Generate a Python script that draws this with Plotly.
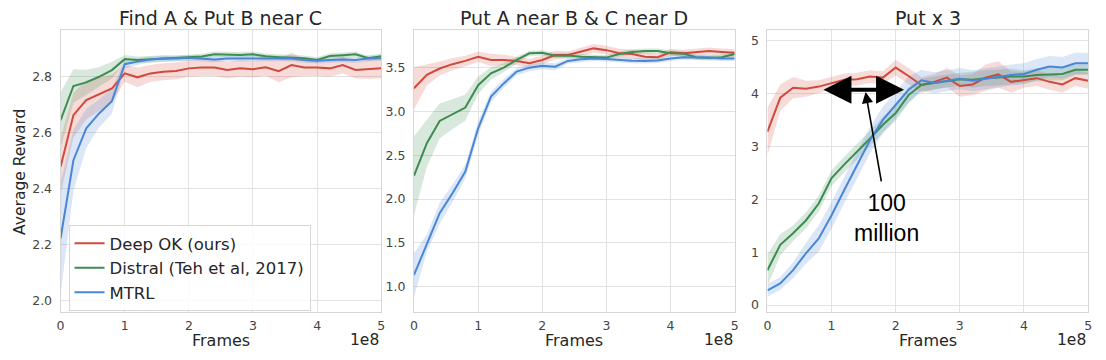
import plotly.graph_objects as go

frames = [0.0, 0.2, 0.4, 0.6, 0.8, 1.0, 1.2, 1.4, 1.6, 1.8, 2.0, 2.2, 2.4,
          2.6, 2.8, 3.0, 3.2, 3.4, 3.6, 3.8, 4.0, 4.2, 4.4, 4.6, 4.8, 5.0]

series_names = ["Deep OK (ours)", "Distral (Teh et al, 2017)", "MTRL"]
panel_titles = ["Find A & Put B near C", "Put A near B & C near D", "Put x 3"]

# Panel 1: Find A & Put B near C
p1_deepok = [2.479, 2.663, 2.717, 2.737, 2.758, 2.812, 2.798, 2.812, 2.818, 2.821, 2.830, 2.833, 2.833,
             2.824, 2.830, 2.827, 2.834, 2.820, 2.842, 2.833, 2.833, 2.830, 2.842, 2.824, 2.827, 2.830]
p1_deepok_err = [0.10, 0.08, 0.07, 0.06, 0.05, 0.03, 0.035, 0.03, 0.03, 0.03, 0.03, 0.03, 0.03,
                 0.03, 0.03, 0.03, 0.03, 0.04, 0.045, 0.03, 0.03, 0.03, 0.03, 0.03, 0.035, 0.035]
p1_distral = [2.645, 2.767, 2.780, 2.800, 2.824, 2.863, 2.860, 2.862, 2.865, 2.866, 2.870, 2.872, 2.880,
              2.878, 2.878, 2.880, 2.873, 2.870, 2.868, 2.866, 2.860, 2.874, 2.877, 2.880, 2.866, 2.873]
p1_distral_err = [0.10, 0.06, 0.045, 0.035, 0.03, 0.015, 0.012, 0.012, 0.012, 0.01, 0.01, 0.01, 0.01,
                  0.01, 0.01, 0.01, 0.01, 0.01, 0.01, 0.01, 0.01, 0.01, 0.01, 0.01, 0.01, 0.01]
p1_mtrl = [2.223, 2.502, 2.616, 2.669, 2.713, 2.845, 2.854, 2.862, 2.865, 2.865, 2.868, 2.865, 2.862,
           2.865, 2.865, 2.866, 2.867, 2.866, 2.865, 2.860, 2.857, 2.860, 2.862, 2.860, 2.865, 2.866]
p1_mtrl_err = [0.20, 0.11, 0.07, 0.05, 0.045, 0.015, 0.012, 0.01, 0.01, 0.01, 0.01, 0.01, 0.01,
               0.01, 0.01, 0.01, 0.01, 0.01, 0.01, 0.01, 0.01, 0.01, 0.01, 0.01, 0.01, 0.01]

# Panel 2: Put A near B & C near D
p2_deepok = [3.265, 3.417, 3.490, 3.540, 3.577, 3.625, 3.588, 3.588, 3.577, 3.550, 3.588, 3.645, 3.645,
             3.680, 3.720, 3.700, 3.665, 3.655, 3.625, 3.620, 3.676, 3.665, 3.680, 3.690, 3.680, 3.670]
p2_deepok_err = [0.24, 0.12, 0.08, 0.07, 0.06, 0.06, 0.07, 0.06, 0.05, 0.05, 0.05, 0.05, 0.04,
                 0.05, 0.05, 0.05, 0.05, 0.05, 0.05, 0.04, 0.04, 0.04, 0.04, 0.04, 0.04, 0.04]
p2_distral = [2.267, 2.637, 2.892, 2.970, 3.044, 3.300, 3.436, 3.500, 3.588, 3.664, 3.670, 3.637, 3.640,
              3.625, 3.620, 3.615, 3.655, 3.680, 3.690, 3.690, 3.665, 3.660, 3.620, 3.610, 3.620, 3.655]
p2_distral_err = [0.45, 0.27, 0.20, 0.17, 0.15, 0.10, 0.07, 0.05, 0.04, 0.03, 0.03, 0.03, 0.03,
                  0.03, 0.03, 0.03, 0.03, 0.03, 0.03, 0.03, 0.03, 0.03, 0.03, 0.03, 0.03, 0.03]
p2_mtrl = [1.133, 1.495, 1.838, 2.066, 2.313, 2.808, 3.169, 3.320, 3.455, 3.500, 3.523, 3.510, 3.577,
           3.595, 3.605, 3.600, 3.588, 3.580, 3.577, 3.583, 3.605, 3.620, 3.615, 3.620, 3.605, 3.605]
p2_mtrl_err = [0.25, 0.10, 0.12, 0.10, 0.08, 0.08, 0.06, 0.05, 0.04, 0.04, 0.04, 0.04, 0.03,
               0.03, 0.03, 0.03, 0.03, 0.03, 0.03, 0.03, 0.03, 0.03, 0.03, 0.03, 0.03, 0.03]

# Panel 3: Put x 3
p3_deepok = [3.28, 3.92, 4.11, 4.09, 4.13, 4.19, 4.26, 4.27, 4.32, 4.30, 4.49, 4.33, 4.16,
             4.22, 4.30, 4.14, 4.17, 4.30, 4.36, 4.22, 4.26, 4.29, 4.22, 4.17, 4.29, 4.24]
p3_deepok_err = [0.45, 0.25, 0.20, 0.15, 0.12, 0.12, 0.12, 0.12, 0.12, 0.12, 0.15, 0.15, 0.15,
                 0.15, 0.18, 0.20, 0.20, 0.25, 0.25, 0.20, 0.15, 0.15, 0.15, 0.15, 0.15, 0.15]
p3_distral = [0.66, 1.14, 1.36, 1.60, 1.92, 2.40, 2.66, 2.90, 3.15, 3.41, 3.63, 3.97, 4.16,
              4.20, 4.24, 4.27, 4.26, 4.29, 4.30, 4.32, 4.32, 4.35, 4.36, 4.37, 4.45, 4.45]
p3_distral_err = [0.30, 0.20, 0.15, 0.15, 0.15, 0.15, 0.15, 0.15, 0.15, 0.15, 0.15, 0.15, 0.12,
                  0.12, 0.12, 0.12, 0.15, 0.15, 0.15, 0.15, 0.12, 0.12, 0.12, 0.12, 0.10, 0.10]
p3_mtrl = [0.28, 0.41, 0.66, 0.98, 1.26, 1.70, 2.18, 2.65, 3.12, 3.50, 3.78, 4.07, 4.25,
           4.20, 4.24, 4.28, 4.24, 4.28, 4.32, 4.35, 4.37, 4.45, 4.51, 4.49, 4.57, 4.57]
p3_mtrl_err = [0.12, 0.12, 0.15, 0.20, 0.25, 0.25, 0.25, 0.25, 0.25, 0.25, 0.25, 0.25, 0.20,
               0.20, 0.20, 0.20, 0.20, 0.20, 0.20, 0.20, 0.20, 0.20, 0.20, 0.20, 0.20, 0.20]

panels = [
    [(p1_deepok, p1_deepok_err), (p1_distral, p1_distral_err), (p1_mtrl, p1_mtrl_err)],
    [(p2_deepok, p2_deepok_err), (p2_distral, p2_distral_err), (p2_mtrl, p2_mtrl_err)],
    [(p3_deepok, p3_deepok_err), (p3_distral, p3_distral_err), (p3_mtrl, p3_mtrl_err)],
]

colors = ["#d04a3c", "#3d8c50", "#4a86d8"]
fills = ["rgba(208,74,60,0.2)", "rgba(61,140,80,0.2)", "rgba(74,134,216,0.2)"]

y_ranges = [[1.96, 2.967], [0.71, 3.93], [-0.13, 5.2]]
y_ticks = [[2.0, 2.2, 2.4, 2.6, 2.8], [1.0, 1.5, 2.0, 2.5, 3.0, 3.5], [0, 1, 2, 3, 4, 5]]
y_fmt = [".1f", ".1f", "d"]
x_ticks = [0, 1, 2, 3, 4, 5]

W, H = 1106, 360
x_px = [(57, 380), (413, 736), (769, 1092)]
top_px, bot_px = 30, 312

fig = go.Figure()
grid = "#e3e3e3"
for i, panel in enumerate(panels):
    xa = "x" if i == 0 else f"x{i+1}"
    ya = "y" if i == 0 else f"y{i+1}"
    for j, (vals, err) in enumerate(panel):
        upper = [v + e for v, e in zip(vals, err)]
        lower = [v - e for v, e in zip(vals, err)]
        fig.add_trace(go.Scatter(x=frames, y=upper, mode="lines", line=dict(width=0),
                                 showlegend=False, hoverinfo="skip", xaxis=xa, yaxis=ya))
        fig.add_trace(go.Scatter(x=frames, y=lower, mode="lines", line=dict(width=0),
                                 fill="tonexty", fillcolor=fills[j],
                                 showlegend=False, hoverinfo="skip", xaxis=xa, yaxis=ya))
    for j, (vals, err) in enumerate(panel):
        fig.add_trace(go.Scatter(x=frames, y=vals, mode="lines",
                                 line=dict(color=colors[j], width=2),
                                 name=series_names[j], showlegend=(i == 0),
                                 xaxis=xa, yaxis=ya))

    x0, x1 = x_px[i]
    axis_common = dict(showgrid=True, gridcolor=grid, gridwidth=1, zeroline=False,
                       showline=True, linecolor="#d6d6d6", linewidth=1, mirror=True,
                       ticks="", tickfont=dict(family="DejaVu Sans", size=12.5, color="#444"))
    fig.layout[f"xaxis{'' if i == 0 else i+1}"] = dict(
        domain=[x0 / W, x1 / W], range=[0, 5], tickvals=x_ticks,
        anchor=ya, ticklabelstandoff=2, **axis_common)
    fig.layout[f"yaxis{'' if i == 0 else i+1}"] = dict(
        domain=[1 - bot_px / H, 1 - top_px / H], range=y_ranges[i],
        tickvals=y_ticks[i], tickformat=y_fmt[i], anchor=xa, ticklabelstandoff=5,
        **axis_common)

    cx = (x0 + x1) / 2 / W
    fig.add_annotation(text=panel_titles[i], x=cx, y=1 - 18 / H, xref="paper", yref="paper",
                       showarrow=False, xanchor="center", yanchor="middle",
                       font=dict(family="DejaVu Sans", size=19, color="#262626"))
    fig.add_annotation(text="Frames", x=cx, y=1 - 340 / H, xref="paper", yref="paper",
                       showarrow=False, xanchor="center", yanchor="middle",
                       font=dict(family="DejaVu Sans", size=16, color="#262626"))
    fig.add_annotation(text="1e8", x=x1 / W, y=1 - 340 / H, xref="paper", yref="paper",
                       showarrow=False, xanchor="right", yanchor="middle",
                       font=dict(family="DejaVu Sans", size=15.5, color="#262626"))

fig.add_annotation(text="Average Reward", x=16 / W, y=1 - 172 / H, xref="paper", yref="paper",
                   showarrow=False, textangle=-90, xanchor="center", yanchor="middle",
                   font=dict(family="DejaVu Sans", size=15.5, color="#262626"))

# "100 million" annotation in panel 3
fig.add_annotation(x=2.13, y=4.07, ax=0.85, ay=4.07, xref="x3", yref="y3", axref="x3", ayref="y3",
                   text="", showarrow=True, arrowhead=2, arrowside="end+start",
                   arrowwidth=4, arrowsize=1.4, arrowcolor="black")
fig.add_annotation(x=1.53, y=4.03, ax=1.78, ay=2.31, xref="x3", yref="y3", axref="x3", ayref="y3",
                   text="", showarrow=True, arrowhead=2, arrowwidth=1.6, arrowsize=1.4,
                   arrowcolor="black")
fig.add_annotation(x=1.86, y=1.64, xref="x3", yref="y3", text="100<br>million",
                   showarrow=False, xanchor="center", yanchor="middle",
                   font=dict(family="Liberation Sans", size=23, color="black"))

fig.update_layout(
    width=W, height=H, margin=dict(l=0, r=0, t=0, b=0),
    paper_bgcolor="white", plot_bgcolor="white",
    legend=dict(x=65 / W, y=1 - 225 / H, xanchor="left", yanchor="top",
                traceorder="normal",
                bgcolor="rgba(255,255,255,0.8)", bordercolor="#d6d6d6", borderwidth=1,
                font=dict(family="DejaVu Sans", size=16.5, color="#262626"),
                tracegroupgap=0, itemwidth=30),
)

fig.write_html("out.html")
